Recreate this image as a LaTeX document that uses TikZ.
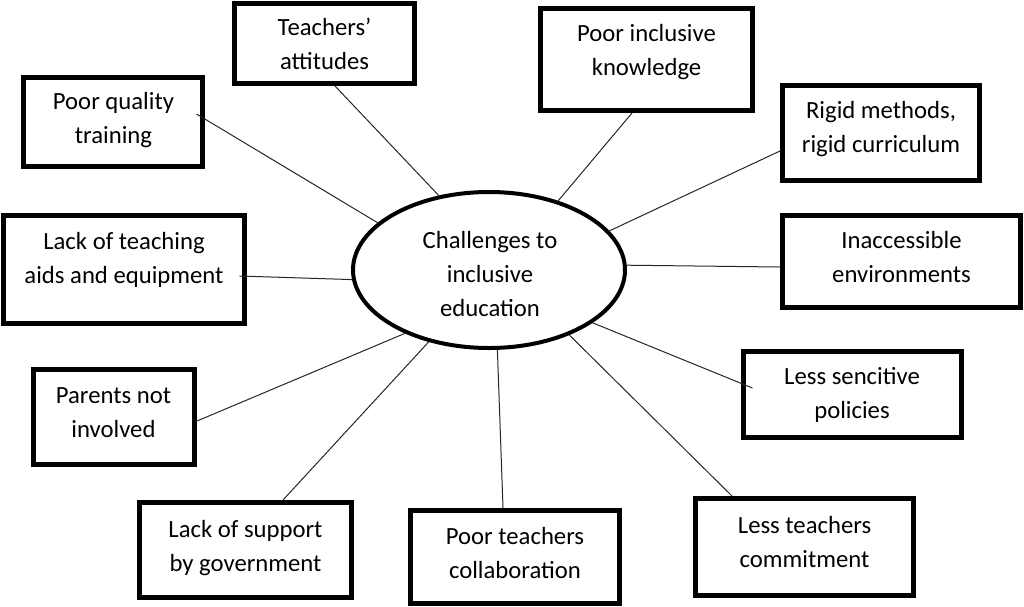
\documentclass[tikz,border=0pt]{standalone}
\usepackage{fontspec}
\setmainfont{Carlito}
\usetikzlibrary{shapes.geometric}
\begin{document}
\begin{tikzpicture}[x=1pt,y=-1pt,
  boxnode/.style={draw=black,line width=5pt,rectangle,inner sep=0pt},
  txt/.style={align=center,inner sep=0pt,font=\fontsize{24.7}{34}\selectfont},
  conn/.style={draw=black!85,line width=1pt}]
\useasboundingbox (0,0) rectangle (1024,606);
% centre
\node[draw=black,line width=4pt,ellipse,minimum width=272pt,minimum height=156pt,inner sep=0pt] (ell) at (489,270) {};
\node[txt] (ct) at (490,276) {\strut Challenges to\\inclusive\\education\strut};
% boxes
\node[boxnode,minimum width=180pt,minimum height=80pt] (b1) at (324.5,43.5) {};
\node[boxnode,minimum width=212pt,minimum height=102pt] (b2) at (646.5,59.5) {};
\node[boxnode,minimum width=179pt,minimum height=89pt] (b3) at (113,122) {};
\node[boxnode,minimum width=197pt,minimum height=95pt] (b4) at (881,133) {};
\node[boxnode,minimum width=241pt,minimum height=108pt] (b5) at (124,269.5) {};
\node[boxnode,minimum width=238pt,minimum height=92pt] (b6) at (901.5,261.5) {};
\node[boxnode,minimum width=161pt,minimum height=95pt] (b7) at (114,417) {};
\node[boxnode,minimum width=218pt,minimum height=86pt] (b8) at (852.5,394.5) {};
\node[boxnode,minimum width=212pt,minimum height=95pt] (b9) at (245.5,550) {};
\node[boxnode,minimum width=209pt,minimum height=93pt] (b10) at (515,557) {};
\node[boxnode,minimum width=218pt,minimum height=97pt] (b11) at (804.5,547) {};
% texts
\node[txt] (t1) at (324.5,46) {\strut Teachers’\\attitudes\strut};
\node[txt] (t2) at (646.5,51.5) {\strut Poor inclusive\\knowledge\strut};
\node[txt] (t3) at (113.5,120) {\strut Poor quality\\training\strut};
\node[txt] (t4) at (881,128.5) {\strut Rigid methods,\\rigid curriculum\strut};
\node[txt] (t5) at (124,260) {\strut Lack of teaching\\aids and equipment\strut};
\node[txt] (t6) at (901.5,259) {\strut Inaccessible\\environments\strut};
\node[txt] (t7) at (113.5,413.5) {\strut Parents not\\involved\strut};
\node[txt] (t8) at (852,394.5) {\strut Less sencitive\\policies\strut};
\node[txt] (t9) at (245.5,547.5) {\strut Lack of support\\by government\strut};
\node[txt] (t10) at (515,555) {\strut Poor teachers\\collaboration\strut};
\node[txt] (t11) at (804.5,543.5) {\strut Less teachers\\commitment\strut};
% connectors
\draw[conn] ([xshift=10.5pt]b1.south) -- (ell.124.5);
\draw[conn] ([xshift=-14.5pt]b2.south) -- (ell.45);
\draw[conn] ([xshift=-8.5pt,yshift=8pt]b3.east) -- (ell.157.6);
\draw[conn] ([yshift=-18pt]b4.west) -- (ell.18);
\draw[conn] ([xshift=-7.5pt,yshift=-6.5pt]b5.east) -- (ell.184.6);
\draw[conn] ([yshift=-5.5pt]b6.west) -- (ell.2);
\draw[conn] ([yshift=-4pt]b7.east) -- (ell.217.2);
\draw[conn] ([xshift=11.5pt,yshift=6.5pt]b8.west) -- (ell.333.2);
\draw[conn] ([xshift=37.5pt]b9.north) -- (ell.230.3);
\draw[conn] ([xshift=-12pt]b10.north) -- (ell.276.9);
\draw[conn] ([xshift=-72.5pt]b11.north) -- (ell.321.7);
\end{tikzpicture}
\end{document}
